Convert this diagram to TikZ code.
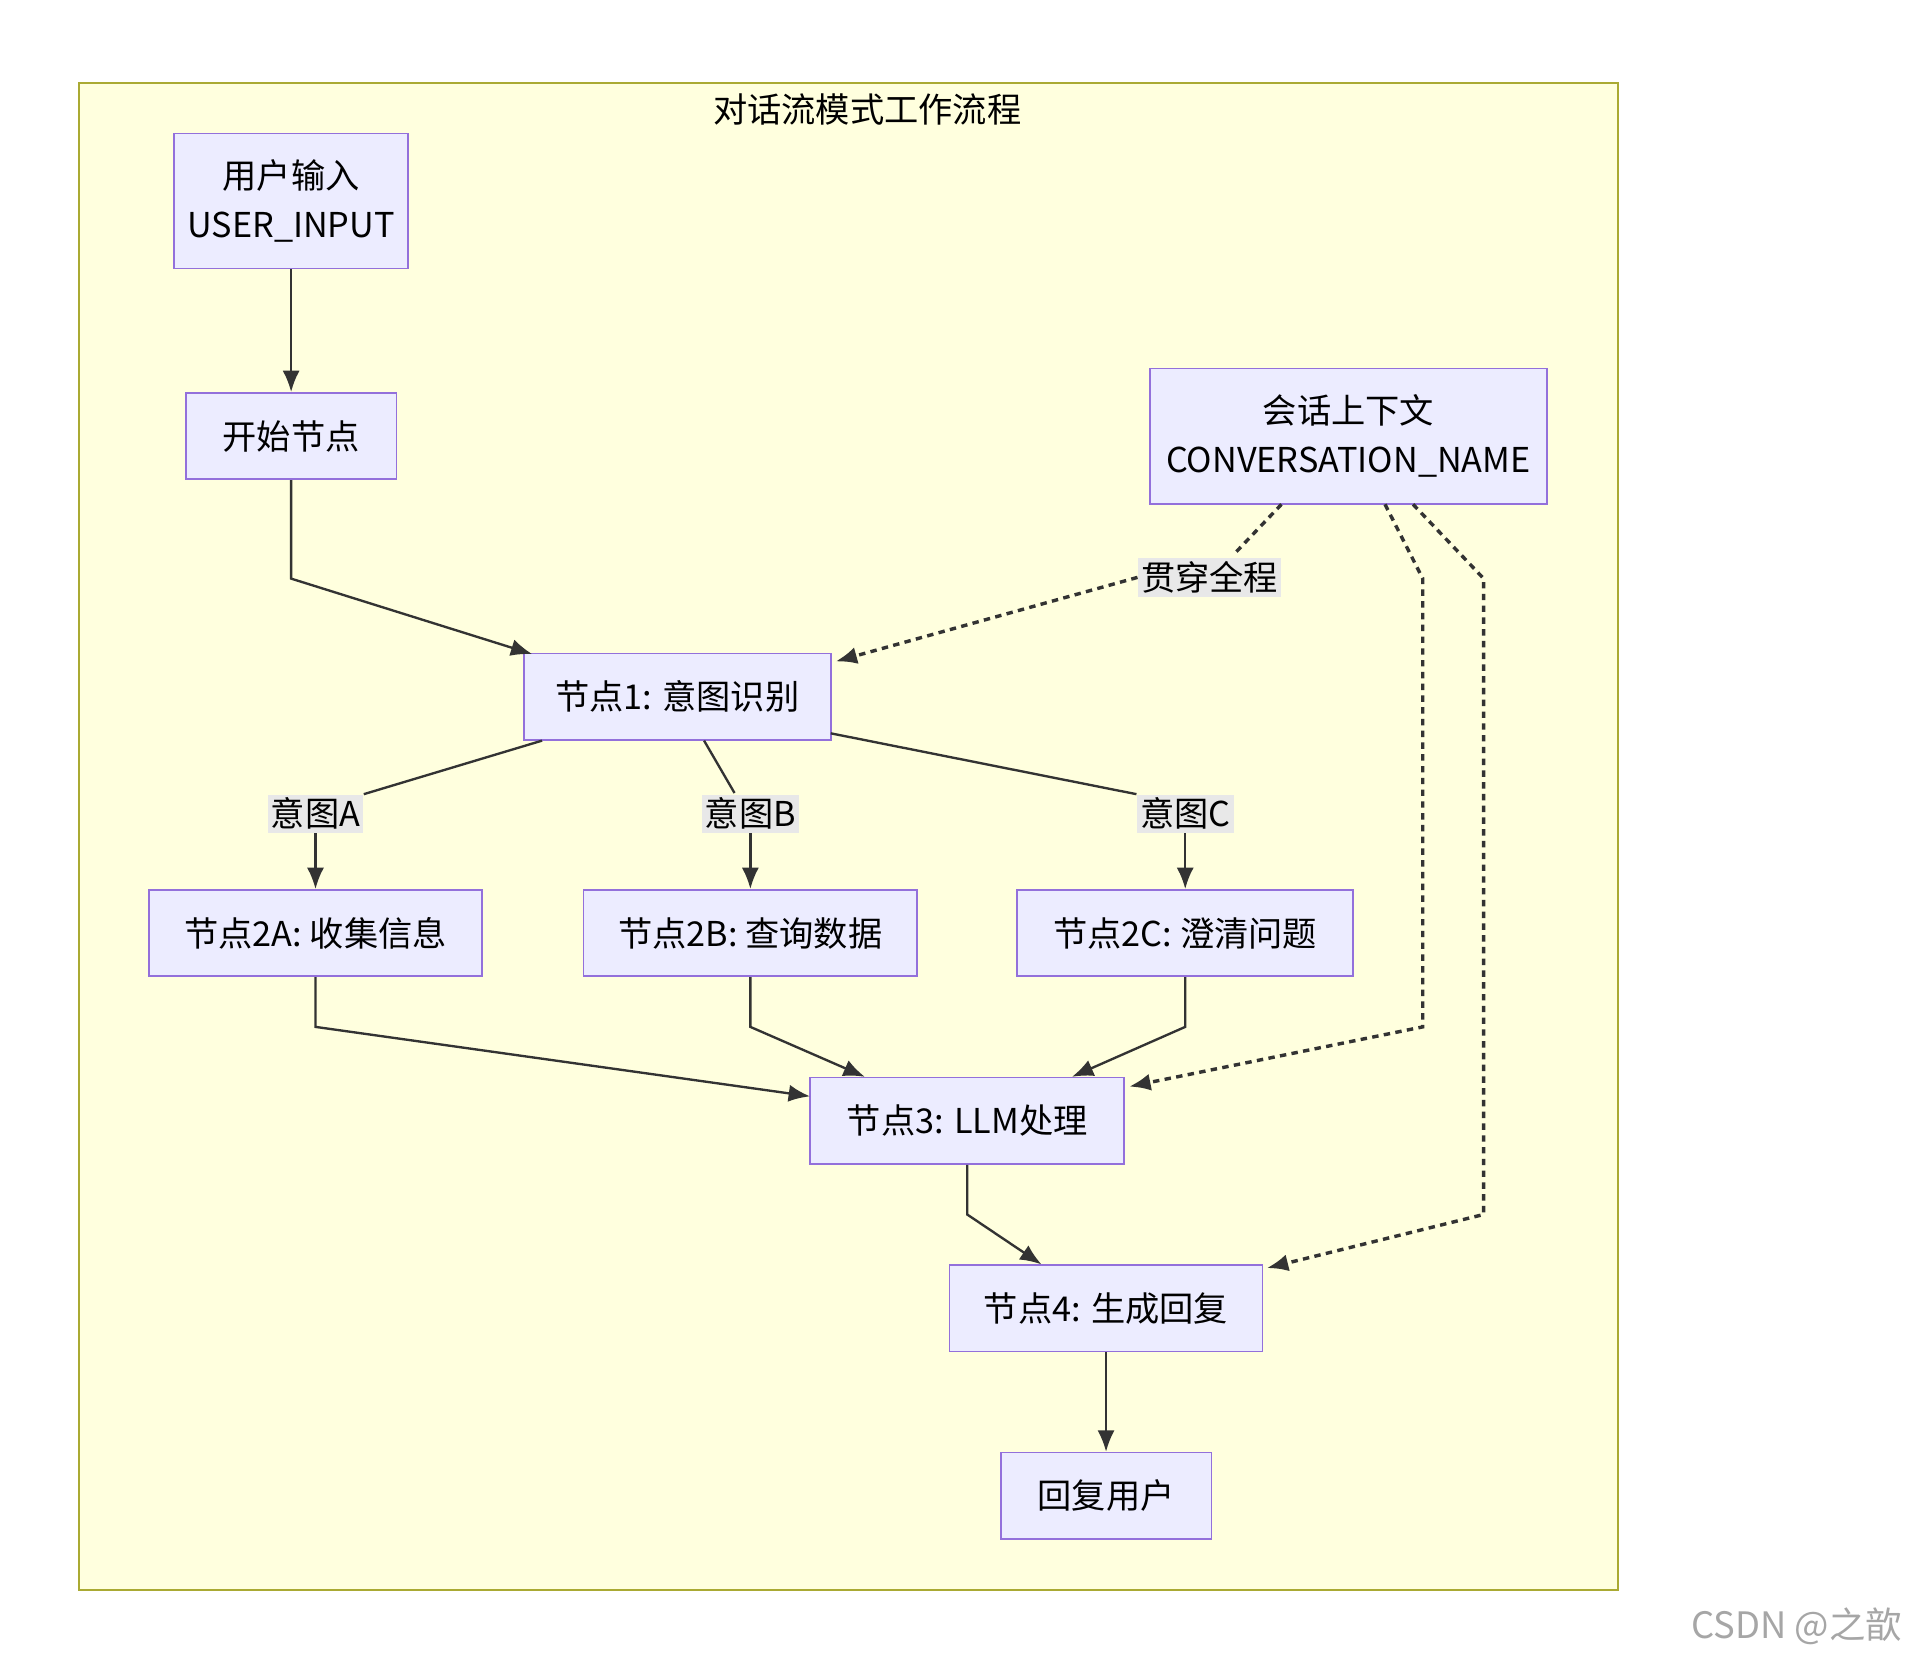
\documentclass[tikz,border=0pt]{standalone}
\usepackage{fontspec}
\setmainfont{Noto Sans CJK SC}
\usetikzlibrary{arrows.meta,positioning,calc}
\definecolor{boxfill}{HTML}{ECECFF}
\definecolor{boxline}{HTML}{9370DB}
\definecolor{grpfill}{HTML}{FFFFDE}
\definecolor{grpline}{HTML}{AAAA33}
\definecolor{lblfill}{HTML}{E8E8E8}
\tikzset{
  box/.style={draw=boxline,fill=boxfill,line width=0.8pt,align=center,inner sep=0pt},
  lbl/.style={fill=lblfill,inner sep=1.5pt},
  link/.style={line width=1.1pt,draw=black!80},
  flow/.style={link,-{Latex[length=10pt,width=8pt]}},
  ctxline/.style={link,line width=1.6pt,dash pattern=on 3pt off 2.5pt},
  ctx/.style={flow,ctxline}
}
\begin{document}
\begin{tikzpicture}[x=0.02cm,y=-0.02cm,font=\fontsize{16}{23}\selectfont]
\useasboundingbox (0,0) rectangle (1568,1360);
\draw[grpline,fill=grpfill,line width=0.8pt] (65,68) rectangle (1328,1305);
\node (title) at (712,90) {对话流模式工作流程};
\node[box,minimum width=3.84cm,minimum height=2.22cm] (user) at (239,165) {用户输入\\USER\_INPUT};
\node[box,minimum width=3.46cm,minimum height=1.42cm] (start) at (239,358) {开始节点};
\node[box,minimum width=6.52cm,minimum height=2.22cm] (conv) at (1107,358) {会话上下文\\CONVERSATION\_NAME};
\node[box,minimum width=5.04cm,minimum height=1.42cm] (intent) at (556,572) {节点1: 意图识别};
\node[box,minimum width=5.48cm,minimum height=1.42cm] (collect) at (259,766) {节点2A: 收集信息};
\node[box,minimum width=5.48cm,minimum height=1.42cm] (query) at (616,766) {节点2B: 查询数据};
\node[box,minimum width=5.52cm,minimum height=1.42cm] (clarify) at (973,766) {节点2C: 澄清问题};
\node[box,minimum width=5.16cm,minimum height=1.42cm] (llm) at (794,920) {节点3: LLM处理};
\node[box,minimum width=5.14cm,minimum height=1.42cm] (gen) at (908,1074) {节点4: 生成回复};
\node[box,minimum width=3.46cm,minimum height=1.42cm] (reply) at (908,1228) {回复用户};
\node[text=black!35,font=\fontsize{17}{20}\selectfont] (mark) at (1475,1335) {CSDN @之歆};
% main flow
\draw[flow] (user) -- (start);
\draw[flow] (start.south) -- (239,475) -- (437,537);
\node[lbl] (la) at (259,668) {意图A};
\node[lbl] (lb) at (616,668) {意图B};
\node[lbl] (lc) at (973,668) {意图C};
\draw[link] (445,608) -- (la.north east);
\draw[flow] (la) -- (collect);
\draw[link] (578,608) -- (603,651);
\draw[flow] (lb) -- (query);
\draw[link] (682,602) -- (lc.north west);
\draw[flow] (lc) -- (clarify);
\draw[flow] (collect.south) -- (259,843) -- (665,900);
\draw[flow] (query.south) -- (616,843) -- (710,884);
\draw[flow] (clarify.south) -- (973,843) -- (880,884);
\draw[flow] (llm.south) -- (794,997) -- (855,1038);
\draw[flow] (gen) -- (reply);
% context
\node[lbl] (thru) at (993,474) {贯穿全程};
\draw[ctxline] (1052,414) -- (1013,455);
\draw[ctx] (thru.west) -- (686,543);
\draw[ctx] (1137,414) -- (1168,475) -- (1168,843) -- (927,892);
\draw[ctx] (1160,414) -- (1218,475) -- (1218,997) -- (1040,1041);
\end{tikzpicture}
\end{document}
